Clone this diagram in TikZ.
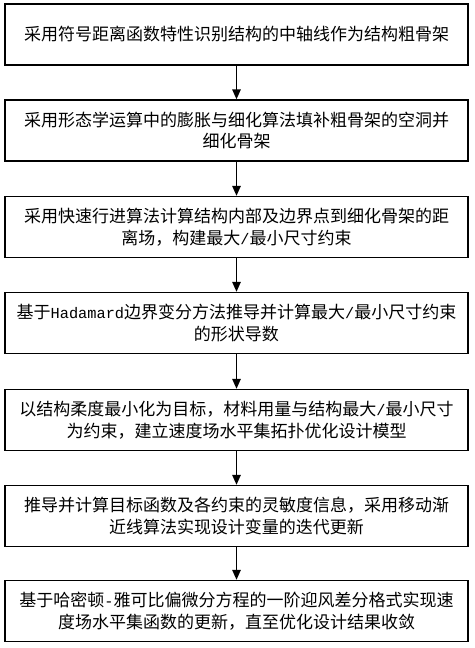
\documentclass[tikz,border=0pt]{standalone}
\usepackage{fontspec}
\setmainfont{Noto Sans CJK SC}
\newfontfamily\latinmono{Liberation Mono}[Scale=0.9]
\usetikzlibrary{arrows.meta}
\tikzset{
  stepbox/.style={draw=black, line width=1.4pt, minimum width=463pt, minimum height=61pt,
    inner sep=0pt, align=center, font=\fontsize{17pt}{21.5pt}\selectfont},
  flowarrow/.style={draw=black, line width=1.4pt, -{Triangle[length=10pt,width=8.5pt]}}
}
\begin{document}
\begin{tikzpicture}[x=1pt,y=1pt]
\useasboundingbox (0,0) rectangle (474,-648);
\node[stepbox] (s1) at (236.5,-34.5) {采用符号距离函数特性识别结构的中轴线作为结构粗骨架};
\node[stepbox] (s2) at (236.5,-130.5) {采用形态学运算中的膨胀与细化算法填补粗骨架的空洞并\\细化骨架};
\node[stepbox] (s3) at (236.5,-227) {采用快速行进算法计算结构内部及边界点到细化骨架的距\\离场，构建最大{\latinmono /}最小尺寸约束};
\node[stepbox] (s4) at (236.5,-323) {基于{\latinmono Hadamard}边界变分方法推导并计算最大{\latinmono /}最小尺寸约束\\的形状导数};
\node[stepbox] (s5) at (236.5,-420) {以结构柔度最小化为目标，材料用量与结构最大{\latinmono /}最小尺寸\\为约束，建立速度场水平集拓扑优化设计模型};
\node[stepbox] (s6) at (236.5,-516) {推导并计算目标函数及各约束的灵敏度信息，采用移动渐\\近线算法实现设计变量的迭代更新};
\node[stepbox] (s7) at (236.5,-611) {基于哈密顿{\latinmono -}雅可比偏微分方程的一阶迎风差分格式实现速\\度场水平集函数的更新，直至优化设计结果收敛};
\draw[flowarrow] (s1) -- (s2);
\draw[flowarrow] (s2) -- (s3);
\draw[flowarrow] (s3) -- (s4);
\draw[flowarrow] (s4) -- (s5);
\draw[flowarrow] (s5) -- (s6);
\draw[flowarrow] (s6) -- (s7);
\end{tikzpicture}
\end{document}
